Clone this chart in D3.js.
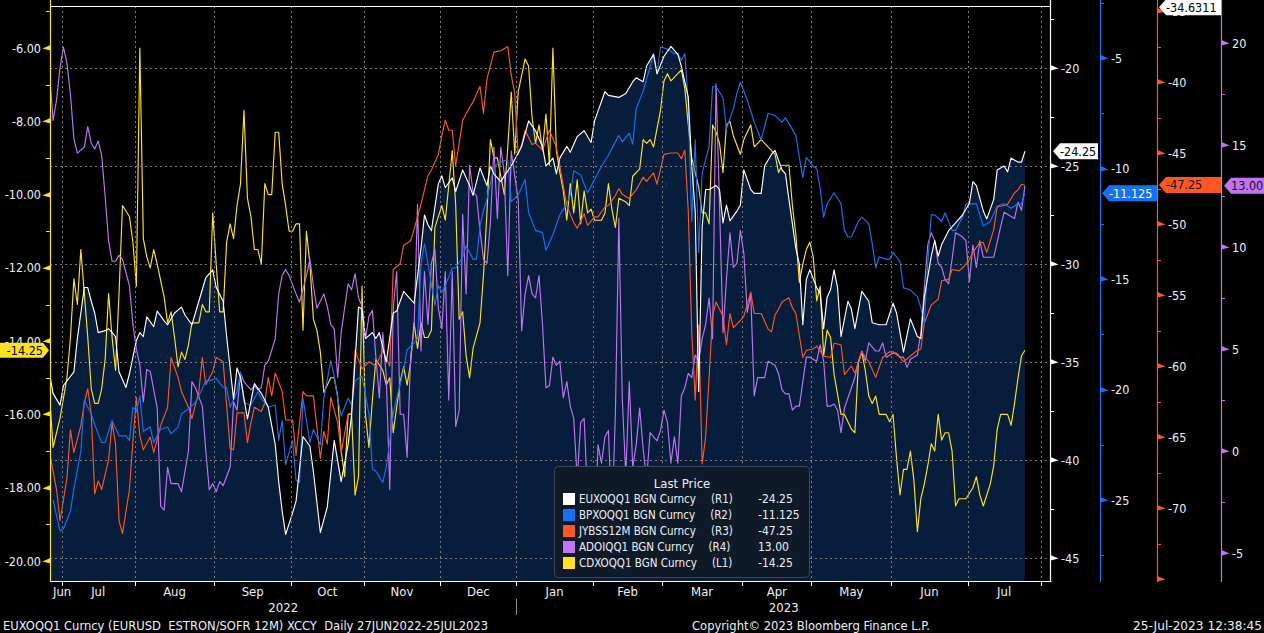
<!DOCTYPE html>
<html><head><meta charset="utf-8">
<script src="https://cdn.jsdelivr.net/npm/d3@7"></script>
<style>html,body{margin:0;padding:0;background:#000;overflow:hidden}</style>
</head><body>
<svg id="c" width="1264" height="633"></svg>
<script>
// ---------------- DATA ----------------
// x = trading day number (weekdays counted from 27-Jun-2022 = 0), y = value
const startDate = "2022-06-27";
const endDate = "2023-07-25";

const eurR1 = [[0,-35.6],[1,-36.6],[3,-37.2],[4,-36.2],[7,-35.5],[8,-33.8],[10,-31.2],[11,-31.2],[12,-31.9],[13,-32.5],[14,-33.5],[16,-33.4],[17,-33.3],[19,-33.7],[20,-35.5],[22,-36.3],[23,-35.6],[25,-33.9],[26,-33.5],[27,-33.7],[28,-32.7],[30,-33.2],[31,-32.4],[33,-32.9],[34,-33.1],[36,-32.5],[38,-32.2],[39,-32.6],[41,-33.1],[42,-32.5],[44,-31.3],[45,-30.7],[47,-30.3],[48,-31.2],[50,-31.9],[51,-33.7],[53,-36.9],[54,-35.3],[55,-35.8],[57,-37.9],[59,-36.1],[61,-36.6],[63,-37.3],[65,-39.2],[66,-41.1],[67,-42.6],[68,-43.8],[70,-42.7],[71,-42.1],[73,-38.8],[75,-39.3],[76,-40.6],[78,-43.7],[80,-42.4],[82,-39.0],[84,-41.1],[86,-39.2],[87,-37.7],[89,-32.2],[90,-32.3],[91,-33.8],[93,-33.5],[94,-33.8],[95,-33.5],[97,-35.0],[99,-32.5],[100,-32.4],[102,-31.4],[104,-31.8],[105,-32.0],[107,-29.2],[108,-27.5],[109,-28.0],[110,-28.3],[112,-25.9],[113,-25.5],[114,-26.1],[116,-25.6],[117,-26.3],[119,-25.2],[121,-26.0],[122,-26.5],[124,-25.1],[126,-26.0],[127,-25.0],[128,-25.4],[130,-25.8],[131,-25.5],[133,-25.0],[136,-24.0],[138,-22.7],[140,-23.2],[142,-24.0],[143,-25.0],[145,-24.6],[146,-25.4],[147,-24.6],[149,-24.0],[150,-24.3],[152,-23.5],[154,-23.2],[156,-23.8],[157,-22.7],[159,-21.7],[160,-21.2],[161,-21.4],[164,-21.5],[166,-21.3],[168,-20.7],[169,-20.5],[171,-20.7],[172,-19.9],[174,-19.3],[175,-20.3],[177,-19.4],[179,-18.9],[181,-19.3],[182,-19.9],[184,-21.5],[185,-25.0],[186,-27.3],[187,-36.5],[188,-28.1],[189,-26.2],[190,-26.2],[192,-26.0],[193,-26.2],[194,-27.9],[195,-27.0],[196,-27.8],[198,-27.3],[199,-27.0],[200,-25.2],[202,-26.2],[203,-26.4],[205,-26.4],[206,-25.0],[208,-24.4],[209,-24.2],[211,-25.2],[212,-25.4],[213,-26.7],[215,-29.2],[216,-30.0],[217,-33.1],[218,-30.8],[219,-30.3],[221,-31.2],[222,-31.5],[223,-33.3],[224,-31.7],[225,-31.3],[226,-30.3],[227,-31.2],[228,-33.7],[230,-31.9],[231,-32.3],[232,-33.3],[234,-31.4],[236,-31.9],[237,-33.0],[239,-33.1],[241,-33.1],[243,-32.0],[244,-32.5],[246,-34.5],[248,-32.8],[250,-33.7],[251,-33.8],[252,-31.7],[254,-29.6],[255,-28.8],[256,-29.6],[257,-29.0],[259,-28.3],[261,-27.9],[263,-27.5],[265,-26.9],[266,-25.8],[267,-26.0],[269,-27.3],[270,-27.7],[272,-26.7],[273,-25.2],[275,-25.0],[276,-25.3],[277,-24.6],[279,-24.8],[280,-24.8],[281,-24.25]];

const bpxR2 = [[1,-25.0],[3,-26.4],[4,-26.3],[6,-25.5],[7,-24.5],[9,-22.8],[10,-20.5],[12,-21.1],[13,-21.6],[15,-22.4],[16,-22.4],[18,-21.4],[20,-22.1],[22,-22.1],[23,-22.3],[24,-20.8],[25,-21.0],[26,-20.3],[27,-21.9],[29,-21.7],[30,-22.4],[32,-21.8],[34,-21.7],[35,-22.0],[37,-21.7],[38,-21.1],[39,-21.0],[42,-20.6],[43,-20.3],[45,-19.6],[46,-19.6],[48,-19.5],[50,-19.9],[51,-19.9],[52,-20.8],[54,-20.1],[55,-19.2],[56,-20.6],[58,-20.7],[60,-20.1],[61,-20.4],[63,-20.8],[65,-20.7],[66,-22.3],[67,-21.4],[68,-23.4],[70,-22.3],[71,-24.1],[72,-24.2],[73,-20.4],[75,-22.4],[76,-21.8],[78,-22.5],[79,-20.4],[81,-18.7],[82,-19.4],[83,-20.4],[84,-21.2],[86,-20.4],[87,-20.7],[88,-19.6],[90,-19.4],[92,-21.1],[93,-23.6],[94,-23.7],[96,-24.2],[97,-23.5],[99,-21.1],[100,-20.4],[102,-19.1],[103,-18.2],[105,-17.9],[106,-17.7],[107,-14.3],[108,-13.4],[109,-14.3],[111,-16.2],[112,-15.3],[113,-15.6],[114,-15.3],[116,-14.5],[117,-14.5],[119,-14.0],[120,-13.5],[122,-14.1],[123,-14.1],[124,-12.6],[125,-11.9],[126,-11.4],[128,-9.9],[130,-9.7],[132,-9.6],[133,-11.5],[135,-11.2],[137,-10.5],[138,-12.0],[140,-12.8],[142,-12.9],[143,-13.7],[145,-13.0],[147,-12.1],[149,-11.6],[150,-11.2],[151,-10.1],[153,-10.3],[155,-11.1],[157,-10.5],[159,-9.9],[161,-9.4],[162,-9.1],[164,-8.5],[165,-8.8],[167,-8.4],[168,-8.9],[169,-7.3],[171,-6.5],[173,-5.4],[174,-4.8],[175,-5.7],[176,-4.5],[178,-4.6],[180,-4.8],[181,-4.8],[182,-5.1],[183,-4.8],[184,-7.1],[185,-12.4],[186,-8.7],[187,-13.8],[188,-10.2],[190,-9.0],[191,-6.3],[192,-6.3],[194,-6.8],[195,-8.2],[197,-7.3],[198,-6.6],[199,-6.1],[201,-6.9],[203,-7.9],[205,-8.7],[207,-7.5],[209,-7.6],[211,-7.9],[212,-7.7],[215,-8.5],[216,-9.5],[217,-10.4],[218,-9.5],[220,-9.9],[221,-10.0],[222,-10.9],[223,-12.2],[224,-11.6],[226,-11.1],[228,-11.6],[229,-12.8],[230,-13.1],[231,-13.1],[233,-12.4],[234,-12.2],[236,-12.5],[237,-13.4],[238,-14.5],[239,-14.0],[241,-14.1],[242,-14.1],[243,-13.8],[245,-14.2],[246,-15.4],[248,-15.5],[250,-15.8],[251,-16.3],[252,-17.0],[253,-14.3],[254,-12.1],[255,-12.1],[257,-12.4],[258,-12.0],[260,-12.8],[261,-12.8],[263,-12.2],[264,-11.6],[265,-11.6],[267,-11.6],[269,-12.6],[271,-12.4],[273,-11.7],[275,-11.6],[277,-11.8],[279,-11.6],[280,-11.6],[281,-11.125]];

const jybR3 = [[0,-66.1],[2,-68.7],[3,-70.9],[5,-67.9],[6,-64.5],[7,-66.1],[9,-64.2],[10,-62.6],[11,-61.6],[12,-63.4],[13,-69.0],[14,-68.1],[15,-68.7],[17,-66.6],[18,-64.0],[19,-65.5],[20,-70.9],[21,-71.8],[23,-68.7],[24,-65.3],[25,-62.2],[26,-64.9],[27,-65.9],[29,-65.0],[30,-66.1],[32,-64.2],[34,-62.9],[35,-59.4],[37,-60.8],[38,-61.8],[40,-62.9],[41,-63.7],[43,-61.8],[44,-59.4],[45,-61.3],[47,-60.4],[48,-59.4],[50,-59.7],[52,-65.8],[53,-65.9],[54,-63.3],[56,-63.3],[57,-65.4],[58,-64.0],[59,-62.9],[61,-63.2],[62,-62.6],[63,-60.8],[64,-62.1],[65,-60.5],[67,-61.8],[68,-63.8],[70,-63.8],[71,-66.3],[73,-61.8],[74,-62.1],[76,-62.1],[78,-66.5],[79,-64.6],[80,-65.5],[81,-62.2],[83,-64.0],[84,-66.1],[86,-63.4],[87,-63.3],[88,-58.9],[90,-60.2],[92,-59.7],[94,-60.0],[96,-58.9],[98,-60.0],[99,-53.2],[101,-52.8],[102,-51.5],[104,-51.2],[105,-50.4],[107,-48.6],[109,-46.6],[110,-46.2],[112,-45.1],[113,-43.8],[114,-42.7],[115,-43.4],[116,-43.4],[117,-45.9],[119,-42.7],[121,-41.8],[122,-41.4],[124,-40.3],[125,-42.2],[126,-39.8],[128,-37.9],[130,-37.8],[132,-37.5],[133,-39.5],[134,-40.8],[135,-45.1],[136,-44.4],[137,-43.4],[139,-44.4],[140,-44.3],[142,-44.8],[144,-43.4],[146,-44.6],[147,-45.9],[149,-48.7],[151,-49.9],[152,-50.3],[154,-49.3],[155,-50.1],[157,-49.5],[158,-49.5],[160,-48.8],[161,-48.7],[163,-48.0],[164,-47.5],[165,-47.9],[167,-48.2],[169,-47.6],[171,-46.7],[172,-47.0],[174,-46.4],[175,-47.2],[177,-45.1],[179,-45.0],[181,-45.0],[182,-45.4],[183,-44.8],[184,-49.1],[185,-57.6],[186,-62.4],[187,-57.1],[188,-66.9],[189,-65.0],[190,-60.8],[191,-56.5],[192,-55.5],[194,-56.5],[195,-58.5],[196,-56.3],[197,-57.3],[199,-56.8],[200,-56.5],[202,-54.8],[203,-56.3],[205,-56.3],[207,-57.4],[208,-57.6],[209,-56.4],[210,-56.0],[211,-55.5],[213,-55.2],[214,-55.9],[215,-56.3],[217,-59.4],[218,-58.9],[220,-58.8],[221,-58.6],[223,-59.3],[225,-59.4],[226,-58.4],[228,-58.5],[229,-60.6],[231,-60.0],[232,-60.5],[234,-59.0],[236,-59.7],[238,-60.8],[240,-59.4],[242,-59.0],[243,-59.0],[245,-59.4],[246,-59.7],[248,-59.3],[250,-58.9],[251,-58.8],[252,-57.0],[254,-55.7],[255,-55.5],[256,-55.3],[257,-54.0],[259,-53.9],[260,-53.2],[262,-53.3],[263,-53.1],[265,-52.5],[266,-52.0],[268,-51.3],[269,-51.3],[270,-52.0],[272,-50.4],[273,-48.8],[275,-48.7],[276,-48.6],[278,-47.8],[279,-47.6],[280,-47.2],[281,-47.25]];

const adoR4 = [[0,18.5],[1,16.2],[2,17.2],[3,18.8],[4,19.8],[5,19.0],[6,17.5],[7,15.3],[8,14.6],[10,14.9],[11,15.9],[12,15.1],[13,14.8],[14,15.2],[15,14.5],[16,12.5],[17,10.3],[18,9.3],[19,9.3],[20,9.6],[21,9.4],[23,8.1],[24,6.2],[25,5.0],[26,4.2],[27,2.4],[28,4.0],[29,3.9],[30,3.0],[31,2.1],[32,-2.7],[33,-2.9],[34,-0.8],[35,-1.6],[37,-1.6],[38,-2.0],[40,0.0],[41,3.4],[42,3.1],[44,2.2],[45,0.0],[46,-1.9],[47,-1.6],[48,-2.0],[49,-1.5],[50,-1.7],[52,-0.8],[53,2.4],[54,2.0],[55,3.8],[56,3.4],[58,3.0],[59,3.2],[60,3.0],[61,3.1],[62,4.2],[63,4.4],[65,5.5],[66,7.7],[67,8.6],[68,8.9],[69,8.6],[71,7.7],[72,7.3],[74,8.6],[75,9.4],[76,8.1],[77,7.0],[79,7.7],[80,7.1],[81,6.2],[82,6.0],[83,3.6],[84,5.8],[85,7.0],[86,8.2],[87,7.9],[88,8.7],[89,7.5],[90,7.1],[91,5.5],[92,6.6],[93,6.9],[94,4.6],[95,2.6],[96,5.8],[97,3.6],[98,-1.9],[99,7.0],[100,8.8],[101,1.8],[102,1.8],[103,-0.3],[104,4.6],[105,6.0],[106,12.1],[107,4.9],[108,8.8],[109,6.2],[110,9.2],[111,9.9],[112,7.0],[113,6.0],[114,8.8],[115,2.5],[116,8.8],[117,1.2],[118,2.0],[119,11.6],[120,7.7],[121,14.0],[122,12.7],[123,12.5],[124,10.8],[125,9.4],[126,9.2],[127,11.2],[128,14.9],[129,11.4],[130,14.9],[131,13.6],[132,8.6],[133,14.7],[135,12.3],[136,5.9],[137,7.7],[138,8.6],[139,7.7],[140,7.5],[141,8.6],[142,6.2],[143,3.1],[144,3.2],[145,4.6],[146,4.2],[147,4.4],[148,2.6],[149,3.4],[150,2.2],[151,1.6],[152,-1.4],[153,1.4],[154,1.6],[155,-2.3],[156,-1.0],[157,-4.3],[158,0.3],[159,-0.6],[160,0.7],[161,1.0],[162,-3.4],[163,1.8],[164,11.4],[165,2.5],[166,-1.2],[167,3.4],[168,-0.8],[169,0.3],[170,2.1],[171,0.1],[172,-1.4],[173,0.9],[175,0.5],[176,1.0],[177,2.0],[178,1.4],[179,-0.6],[180,0.7],[181,-0.6],[182,2.7],[183,3.1],[184,3.8],[185,3.6],[186,4.7],[187,4.4],[188,5.5],[189,6.2],[190,7.5],[191,5.5],[192,18.0],[193,12.1],[194,5.8],[195,8.4],[196,10.7],[197,9.0],[198,9.2],[199,10.8],[200,9.7],[201,6.8],[202,7.7],[203,2.7],[204,3.6],[205,3.6],[206,3.6],[207,4.4],[209,4.2],[210,3.8],[211,3.0],[212,2.8],[213,2.8],[214,2.0],[215,2.2],[216,2.2],[217,3.4],[218,4.6],[219,4.6],[221,4.4],[222,5.2],[223,4.4],[224,2.2],[225,2.2],[226,2.3],[227,2.0],[228,0.9],[229,2.1],[231,3.1],[232,3.6],[233,4.4],[234,4.9],[235,4.4],[236,5.3],[238,4.9],[239,4.9],[240,5.3],[241,4.6],[243,4.8],[244,4.8],[245,4.6],[246,4.6],[247,4.1],[248,4.5],[250,4.7],[251,5.8],[253,10.1],[254,10.7],[255,10.3],[256,9.2],[257,9.0],[258,8.4],[259,8.2],[260,9.4],[261,10.7],[263,10.5],[264,10.3],[265,8.3],[266,10.1],[267,9.0],[268,10.3],[269,9.5],[271,9.5],[272,9.5],[274,11.0],[275,11.7],[277,11.5],[278,11.4],[279,12.2],[280,11.8],[281,13.0]];

const cdxL1 = [[0,-15.5],[1,-16.9],[2,-16.5],[3,-16.1],[5,-15.0],[6,-13.9],[7,-12.3],[8,-13.0],[9,-11.5],[10,-12.7],[11,-13.9],[12,-15.3],[13,-15.7],[14,-15.7],[15,-15.3],[16,-14.5],[17,-12.7],[18,-13.9],[19,-14.8],[20,-12.7],[21,-10.3],[23,-10.6],[24,-11.3],[25,-12.5],[26,-6.0],[27,-11.2],[28,-11.7],[29,-12.0],[30,-11.5],[31,-11.9],[33,-12.8],[34,-13.5],[35,-13.2],[36,-13.9],[37,-14.7],[38,-14.3],[39,-14.5],[40,-14.1],[41,-13.5],[43,-13.5],[44,-13.0],[45,-13.2],[46,-13.2],[47,-10.5],[48,-11.9],[49,-13.2],[50,-13.2],[51,-11.3],[52,-10.8],[53,-11.2],[54,-10.3],[55,-9.7],[56,-7.7],[57,-10.1],[58,-10.6],[59,-11.5],[60,-11.5],[61,-11.9],[62,-9.7],[63,-10.0],[64,-10.0],[65,-8.3],[66,-8.3],[67,-9.7],[68,-10.3],[69,-11.0],[70,-11.0],[71,-10.8],[72,-10.8],[73,-13.7],[74,-11.0],[75,-11.9],[76,-13.4],[77,-13.7],[78,-14.3],[79,-15.4],[81,-15.0],[82,-15.0],[83,-15.5],[84,-17.0],[85,-17.7],[86,-16.0],[87,-16.0],[88,-18.2],[89,-17.7],[90,-12.5],[91,-16.0],[92,-16.9],[93,-15.6],[94,-14.5],[96,-14.8],[97,-15.2],[98,-15.0],[99,-16.5],[101,-15.1],[102,-14.7],[103,-15.2],[104,-14.6],[105,-13.5],[106,-14.2],[107,-13.5],[108,-13.9],[109,-13.9],[110,-13.7],[111,-10.9],[113,-10.3],[114,-10.7],[116,-8.8],[117,-10.3],[118,-13.4],[119,-13.2],[120,-14.4],[121,-15.0],[122,-14.2],[124,-13.5],[125,-12.2],[126,-10.5],[127,-8.5],[128,-9.0],[129,-9.0],[130,-9.5],[131,-10.0],[132,-8.7],[133,-7.2],[134,-8.9],[135,-7.2],[137,-6.3],[138,-6.5],[139,-7.9],[140,-8.6],[141,-8.1],[142,-8.8],[143,-7.8],[144,-9.2],[145,-6.0],[146,-8.8],[147,-9.4],[148,-9.9],[149,-10.7],[150,-9.7],[151,-10.5],[152,-9.6],[153,-10.8],[154,-9.9],[155,-10.5],[156,-10.4],[157,-10.7],[159,-10.7],[160,-10.5],[161,-9.7],[162,-10.4],[163,-10.9],[164,-10.1],[166,-10.2],[167,-10.3],[168,-9.5],[170,-9.3],[171,-8.5],[172,-8.6],[173,-8.5],[174,-8.7],[176,-7.7],[177,-6.9],[178,-6.7],[179,-6.9],[181,-6.7],[182,-6.6],[183,-7.1],[184,-8.1],[185,-9.0],[186,-9.4],[187,-9.8],[188,-10.5],[189,-10.5],[190,-10.8],[191,-8.1],[192,-8.3],[193,-8.6],[194,-9.4],[195,-8.1],[196,-8.0],[197,-8.4],[199,-8.9],[200,-8.5],[202,-8.1],[203,-8.7],[205,-8.5],[206,-8.6],[208,-8.8],[209,-8.9],[210,-9.4],[211,-9.2],[213,-9.2],[214,-10.3],[215,-11.1],[216,-12.4],[217,-11.9],[218,-11.5],[219,-11.3],[220,-11.7],[221,-12.9],[222,-12.5],[223,-14.4],[224,-13.7],[225,-13.9],[226,-14.9],[228,-16.0],[229,-16.0],[231,-16.4],[232,-16.5],[233,-14.6],[234,-14.3],[235,-14.8],[236,-15.5],[237,-15.7],[238,-15.5],[239,-16.0],[241,-16.0],[242,-16.2],[243,-16.0],[244,-17.2],[245,-18.2],[246,-17.5],[247,-17.5],[248,-17.0],[249,-17.8],[250,-19.2],[251,-18.3],[252,-17.9],[253,-17.4],[254,-16.8],[255,-17.0],[256,-16.0],[257,-16.7],[258,-16.5],[259,-16.5],[260,-17.0],[261,-18.5],[262,-18.3],[264,-18.3],[266,-18.0],[267,-17.7],[268,-18.2],[269,-18.5],[270,-18.2],[271,-17.9],[272,-17.4],[273,-16.4],[274,-16.0],[276,-16.0],[277,-16.3],[278,-15.7],[279,-15.0],[280,-14.4],[281,-14.25]];

const legendNames = ["EUXOQQ1 BGN Curncy", "BPXOQQ1 BGN Curncy", "JYBSS12M BGN Curncy", "ADOIQQ1 BGN Curncy", "CDXOQQ1 BGN Curncy"];
const legendAxes = ["(R1)", "(R2)", "(R3)", "(R4)", "(L1)"];
const lastLabels = ["-24.25", "-11.125", "-47.25", "13.00", "-14.25"];
const r3TopMarker = -34.6311;

const ticksL1 = [-6, -8, -10, -12, -14, -16, -18, -20];
const minorL1 = [-5, -7, -9, -11, -13, -15, -17, -19];
const ticksR1 = [-20, -25, -30, -35, -40, -45];
const minorR1 = [-17.5, -22.5, -27.5, -32.5, -37.5, -42.5];
const ticksR2 = [-5, -10, -15, -20, -25];
const minorR2 = [-2.5, -7.5, -12.5, -17.5, -22.5, -27.5];
const ticksR3 = [-35, -40, -45, -50, -55, -60, -65, -70, -75];
const minorR3 = [-37.5, -42.5, -47.5, -52.5, -57.5, -62.5, -67.5, -72.5];
const ticksR4 = [20, 15, 10, 5, 0, -5];
const minorR4 = [17.5, 12.5, 7.5, 2.5, -2.5];

const footerLeft = "EUXOQQ1 Curncy (EURUSD  ESTRON/SOFR 12M) XCCY  Daily 27JUN2022-25JUL2023";
const footerMid = "Copyright\u00A9 2023 Bloomberg Finance L.P.";
const footerRight = "25-Jul-2023 12:38:45";

// ---------------- LAYOUT ----------------
const W = 1264, H = 633;
const L = 50, R = 1051, T = 6, B = 581;
const C = { white: "#ffffff", blue: "#1672f5", orange: "#ff5722", purple: "#c175f5", yellow: "#ffe21f", navy: "#061d3b" };
const FONT = "'DejaVu Sans Condensed','DejaVu Sans',sans-serif";
const NARROW = "'Liberation Sans Narrow','DejaVu Sans Condensed','DejaVu Sans',sans-serif";
const txtCol = "#eaf0f8";

const svg = d3.select("#c");
svg.append("rect").attr("width", W).attr("height", H).attr("fill", "#000");

// trading day calendar
const parse = d3.timeParse("%Y-%m-%d");
const days = [];
for (let d = parse(startDate); d <= parse("2023-08-31"); d = d3.timeDay.offset(d, 1)) {
  const wd = d.getDay(); if (wd !== 0 && wd !== 6) days.push(d);
}
const lastIdx = eurR1[eurR1.length - 1][0];
const x = d3.scaleLinear().domain([0, lastIdx + 7.5]).range([49.6, R]);
const yL1 = d3.scaleLinear().domain([-20, -6]).range([561, 48]);
const yR1 = d3.scaleLinear().domain([-45, -20]).range([558, 68]);
const yR2 = d3.scaleLinear().domain([-25, -5]).range([500, 58]);
const yR3 = d3.scaleLinear().domain([-75, -35]).range([579, 11]);
const yR4 = d3.scaleLinear().domain([-5, 20]).range([553, 43]);

// month boundaries
const maxIdx = x.domain()[1];
const bounds = [];
for (let i = 1; i < days.length && i - 0.5 <= maxIdx; i++) {
  if (days[i].getMonth() !== days[i - 1].getMonth()) bounds.push({ i: i - 0.5, date: days[i] });
}

svg.append("defs").append("clipPath").attr("id", "pc")
  .append("rect").attr("x", L).attr("y", T).attr("width", R - L).attr("height", B - T);

const plot = svg.append("g").attr("clip-path", "url(#pc)");

// area under EUR
plot.append("path").datum(eurR1)
  .attr("d", d3.area().x(d => x(d[0])).y0(B).y1(d => yR1(d[1])))
  .attr("fill", C.navy);

// grid
const grid = svg.append("g").attr("stroke", "#7a7a7a").attr("stroke-width", 1).attr("stroke-dasharray", "2,3");
grid.selectAll("line.v").data(bounds).join("line")
  .attr("x1", d => Math.round(x(d.i)) + 0.5).attr("x2", d => Math.round(x(d.i)) + 0.5)
  .attr("y1", T).attr("y2", B);
grid.selectAll("line.h").data(ticksR1).join("line")
  .attr("x1", L).attr("x2", R)
  .attr("y1", d => Math.round(yR1(d)) + 0.5).attr("y2", d => Math.round(yR1(d)) + 0.5);

// series lines
const series = [
  { data: cdxL1, y: yL1, col: C.yellow },
  { data: adoR4, y: yR4, col: C.purple },
  { data: jybR3, y: yR3, col: C.orange },
  { data: bpxR2, y: yR2, col: C.blue },
  { data: eurR1, y: yR1, col: C.white }
];
series.forEach(s => {
  plot.append("path").datum(s.data)
    .attr("d", d3.line().x(d => x(d[0])).y(d => s.y(d[1])))
    .attr("fill", "none").attr("stroke", s.col).attr("stroke-width", 1.15)
    .attr("stroke-linejoin", "round");
});

// frame top & bottom
svg.append("line").attr("x1", L).attr("x2", R).attr("y1", T + 0.5).attr("y2", T + 0.5).attr("stroke", "#fff");
svg.append("line").attr("x1", L).attr("x2", R + 0.5).attr("y1", B + 0.5).attr("y2", B + 0.5).attr("stroke", "#fff");
// bottom month ticks
svg.selectAll("line.mt").data(bounds).join("line")
  .attr("x1", d => Math.round(x(d.i)) + 0.5).attr("x2", d => Math.round(x(d.i)) + 0.5)
  .attr("y1", B).attr("y2", B + 5).attr("stroke", "#fff");

// axes helper
function vAxis(ax, scale, majors, minors, col, side, fmt) {
  const g = svg.append("g");
  g.append("line").attr("x1", ax + 0.5).attr("x2", ax + 0.5).attr("y1", 0).attr("y2", B + 1).attr("stroke", col).attr("stroke-width", 1.2);
  const dir = side === "right" ? 1 : -1;
  g.selectAll("line.mn").data(minors).join("line")
    .attr("x1", ax).attr("x2", ax + dir * 4)
    .attr("y1", d => Math.round(scale(d)) + 0.5).attr("y2", d => Math.round(scale(d)) + 0.5)
    .attr("stroke", col);
  g.selectAll("path.mj").data(majors).join("path")
    .attr("d", d => { const y = Math.round(scale(d)) + 0.5; return `M${ax + 0.5},${y - 3.5}L${ax + 0.5 + dir * 8},${y}L${ax + 0.5},${y + 2}Z`; })
    .attr("fill", col);
  g.selectAll("text").data(majors.filter(d => scale(d) < B - 6)).join("text")
    .attr("x", side === "right" ? ax + 11 : ax - 9)
    .attr("y", d => scale(d)).attr("dy", "0.36em")
    .attr("text-anchor", side === "right" ? "start" : "end")
    .attr("font-family", FONT).attr("font-size", 12.5).attr("font-stretch", "condensed")
    .attr("fill", txtCol).text(fmt);
}
const f0 = d => String(d);
vAxis(50, yL1, ticksL1, minorL1, C.yellow, "left", d => d.toFixed(2));
vAxis(1050, yR1, ticksR1, minorR1, C.white, "right", f0);
vAxis(1100, yR2, ticksR2, minorR2, C.blue, "right", f0);
vAxis(1157, yR3, ticksR3, minorR3, C.orange, "right", f0);
vAxis(1221, yR4, ticksR4, minorR4, C.purple, "right", f0);

// month labels
const fmtM = d3.timeFormat("%b");
const mLabels = [];
mLabels.push({ x: L + 3, anchor: "start", text: fmtM(days[0]) });
bounds.forEach((b, k) => {
  const nx = k + 1 < bounds.length ? x(bounds[k + 1].i) : null;
  if (nx !== null) mLabels.push({ x: (x(b.i) + nx) / 2, anchor: "middle", text: fmtM(b.date) });
});
svg.selectAll("text.m").data(mLabels).join("text")
  .attr("x", d => d.x).attr("y", 596).attr("text-anchor", d => d.anchor)
  .attr("font-family", NARROW).attr("font-size", 13).attr("fill", txtCol).text(d => d.text);

// years
const janB = bounds.find(b => b.date.getMonth() === 0);
const years = [
  { x: (L + x(janB.i)) / 2, text: String(days[0].getFullYear()) },
  { x: (x(janB.i) + R) / 2, text: String(janB.date.getFullYear()) }
];
svg.selectAll("text.y").data(years).join("text")
  .attr("x", d => d.x).attr("y", 612).attr("text-anchor", "middle")
  .attr("font-family", NARROW).attr("font-size", 13).attr("fill", txtCol).text(d => d.text);
svg.append("line").attr("x1", Math.round(x(janB.i)) + 0.5).attr("x2", Math.round(x(janB.i)) + 0.5)
  .attr("y1", 599).attr("y2", 615).attr("stroke", "#8a8a8a");

// footer
svg.append("text").attr("x", 3).attr("y", 630).attr("font-family", NARROW).attr("font-size", 13)
  .attr("fill", txtCol).attr("textLength", 485).attr("lengthAdjust", "spacingAndGlyphs").attr("xml:space", "preserve").text(footerLeft);
svg.append("text").attr("x", 692).attr("y", 630).attr("font-family", NARROW).attr("font-size", 13)
  .attr("fill", txtCol).attr("textLength", 238).attr("lengthAdjust", "spacingAndGlyphs").text(footerMid);
svg.append("text").attr("x", 1133).attr("y", 630).attr("font-family", NARROW).attr("font-size", 13)
  .attr("fill", txtCol).attr("textLength", 129).attr("lengthAdjust", "spacingAndGlyphs").text(footerRight);

// legend
const lg = svg.append("g");
lg.append("rect").attr("x", 554.5).attr("y", 466.5).attr("width", 255).attr("height", 111).attr("rx", 4)
  .attr("fill", "#0f1a29").attr("stroke", "#3b4656");
lg.append("text").attr("x", 682).attr("y", 483).attr("dy", "0.36em").attr("text-anchor", "middle")
  .attr("font-family", FONT).attr("font-size", 13).attr("font-stretch", "condensed").attr("fill", txtCol).text("Last Price");
const legCols = [C.white, C.blue, C.orange, C.purple, C.yellow];
const LFS = 11.5;
legendNames.forEach((n, k) => {
  const yy = 499 + k * 16;
  lg.append("rect").attr("x", 563).attr("y", yy - 6).attr("width", 12).attr("height", 12).attr("fill", legCols[k]);
  const t = lg.append("text").attr("x", 579).attr("y", yy).attr("dy", "0.36em")
    .attr("font-family", FONT).attr("font-size", LFS).attr("font-stretch", "condensed").attr("fill", txtCol).text(n);
  const w = t.node().getComputedTextLength();
  lg.append("text").attr("x", 579 + w + 15).attr("y", yy).attr("dy", "0.36em")
    .attr("font-family", FONT).attr("font-size", LFS).attr("font-stretch", "condensed").attr("fill", txtCol).text(legendAxes[k]);
  lg.append("text").attr("x", 758).attr("y", yy).attr("dy", "0.36em")
    .attr("font-family", FONT).attr("font-size", LFS + 0.5).attr("font-stretch", "condensed").attr("fill", txtCol).text(lastLabels[k]);
});

// last value tags
function tagLeft(tipX, y, w, fill, tc, text) {
  const h = 8;
  svg.append("path").attr("d", `M${tipX},${y}L${tipX + 7},${y - h}L${tipX + w},${y - h}L${tipX + w},${y + h}L${tipX + 7},${y + h}Z`).attr("fill", fill);
  svg.append("text").attr("x", tipX + 7).attr("y", y).attr("dy", "0.36em")
    .attr("font-family", FONT).attr("font-size", 12.5).attr("font-stretch", "condensed").attr("fill", tc).text(text);
}
function tagRight(tipX, y, fill, tc, text) {
  const h = 7.5;
  svg.append("path").attr("d", `M${tipX},${y}L${tipX - 6},${y - h}L0,${y - h}L0,${y + h}L${tipX - 6},${y + h}Z`).attr("fill", fill);
  svg.append("text").attr("x", tipX - 6).attr("y", y).attr("dy", "0.36em").attr("text-anchor", "end")
    .attr("font-family", FONT).attr("font-size", 12.5).attr("font-stretch", "condensed").attr("fill", tc).text(text);
}
const lastOf = a => a[a.length - 1][1];
tagLeft(1053, yR1(lastOf(eurR1)), 45, "#ffffff", "#000", lastLabels[0]);
tagLeft(1102, yR2(lastOf(bpxR2)), 55, C.blue, "#ffffff", lastLabels[1]);
tagLeft(1159, yR3(lastOf(jybR3)), 62, C.orange, "#111", lastLabels[2]);
tagLeft(1224, yR4(lastOf(adoR4)), 40, C.purple, "#111", lastLabels[3]);
tagRight(49, yL1(lastOf(cdxL1)), C.yellow, "#000", lastLabels[4]);
tagLeft(1159, yR3(r3TopMarker) + 1.5, 62, "#ffffff", "#000", String(r3TopMarker));
</script>
</body></html>
